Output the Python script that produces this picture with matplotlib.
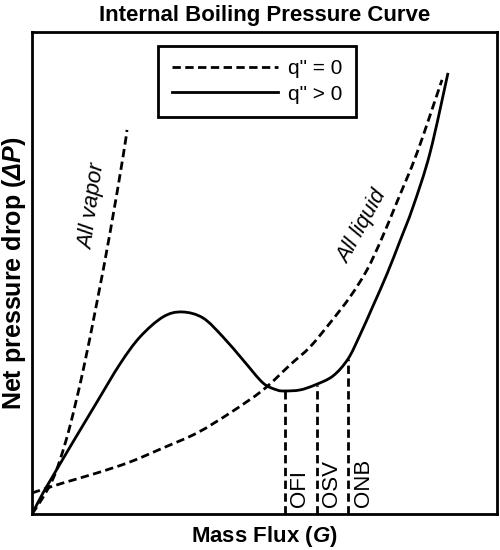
import matplotlib.pyplot as plt
from matplotlib.path import Path
from matplotlib.patches import PathPatch
from matplotlib.lines import Line2D
import numpy as np

plt.rcParams['font.family'] = ['Liberation Sans', 'DejaVu Sans']
plt.rcParams['mathtext.fontset'] = 'custom'
plt.rcParams['mathtext.it'] = 'Liberation Sans:italic:bold'
plt.rcParams['mathtext.rm'] = 'Liberation Sans:italic:bold'

# curves (arbitrary units: G across, dP up)
vapor_g = [0, 10, 20, 28, 38, 51, 65, 78, 91, 95]
vapor_dp = [0, 15, 33, 54, 88, 143, 212, 281, 357, 384]

liquid_g = [0, 31, 65, 98, 131, 165, 198, 231, 258, 278, 298, 318, 335, 350, 365, 385, 410]
liquid_dp = [21, 31, 41, 52, 66, 81, 101, 124, 149, 167, 191, 217, 244, 276, 312, 361, 434]

boil_g = [0, 11, 18, 28, 41, 53, 65, 88, 108, 131, 150, 171, 191, 211, 231, 245, 253,
          268, 283, 301, 316, 328, 341, 355, 368, 381, 398, 416]
boil_dp = [0, 21, 33, 50, 72, 92, 112, 150, 177, 197, 202, 196, 177, 154, 131, 124, 123,
           124, 129, 138, 155, 179, 208, 240, 273, 307, 361, 441]

# onset points: OFI, OSV, ONB
onset_names = ['OFI', 'OSV', 'ONB']
onset_g = [253, 285, 316]
onset_dp = [123, 129, 155]


def smooth_path(xs, ys):
    # catmull-rom through the read points, handed to matplotlib as cubic beziers
    p = np.column_stack([xs, ys]).astype(float)
    p = np.vstack([p[0], p, p[-1]])
    verts = [p[1]]
    codes = [Path.MOVETO]
    for i in range(1, len(p) - 2):
        c1 = p[i] + (p[i + 1] - p[i - 1]) / 6
        c2 = p[i + 1] - (p[i + 2] - p[i]) / 6
        verts += [c1, c2, p[i + 1]]
        codes += [Path.CURVE4] * 3
    return Path(verts, codes)


fig = plt.figure(figsize=(5, 5.5), dpi=100)
ax = fig.add_axes([0.064, 0.0655, 0.93, 0.8765])

dash = (0, (3, 1.6))
ax.add_patch(PathPatch(smooth_path(vapor_g, vapor_dp), fill=False, lw=2, ls=dash, ec='black'))
ax.add_patch(PathPatch(smooth_path(liquid_g, liquid_dp), fill=False, lw=2, ls=dash, ec='black'))
ax.add_patch(PathPatch(smooth_path(boil_g, boil_dp), fill=False, lw=2, ec='black'))

for name, g, dp in zip(onset_names, onset_g, onset_dp):
    ax.plot([g, g], [0, dp], color='black', lw=2, linestyle=dash)
    ax.text(g + 15, 7, name, rotation=90, ha='center', va='bottom', fontsize=16)

ax.text(61, 307, 'All vapor', rotation=82, ha='center', va='center', fontsize=16, style='italic')
ax.text(330, 287, 'All liquid', rotation=61, ha='center', va='center', fontsize=15.5, style='italic')

ax.set_xlim(0, 465)
ax.set_ylim(0, 482)
ax.set_xticks([])
ax.set_yticks([])
for s in ax.spines.values():
    s.set_linewidth(2)

handles = [Line2D([], [], color='black', lw=2, ls=dash),
           Line2D([], [], color='black', lw=2)]
leg = ax.legend(handles, ['q" = 0', 'q" > 0'], loc='upper left', bbox_to_anchor=(0.271, 0.971),
                borderaxespad=0, fontsize=15, handlelength=5.1, handletextpad=0.5,
                fancybox=False, edgecolor='black', framealpha=1, borderpad=0.65,
                labelspacing=0.3)
leg.get_frame().set_linewidth(2)

ax.set_title('Internal Boiling Pressure Curve', fontsize=16, fontweight='bold', pad=8)
ax.set_xlabel('Mass Flux ($G$)', fontsize=16, fontweight='bold', labelpad=7)
ax.set_ylabel('Net pressure drop ($ΔP$)', fontsize=18, fontweight='bold', labelpad=3)

fig.savefig('out.png', dpi=100)
